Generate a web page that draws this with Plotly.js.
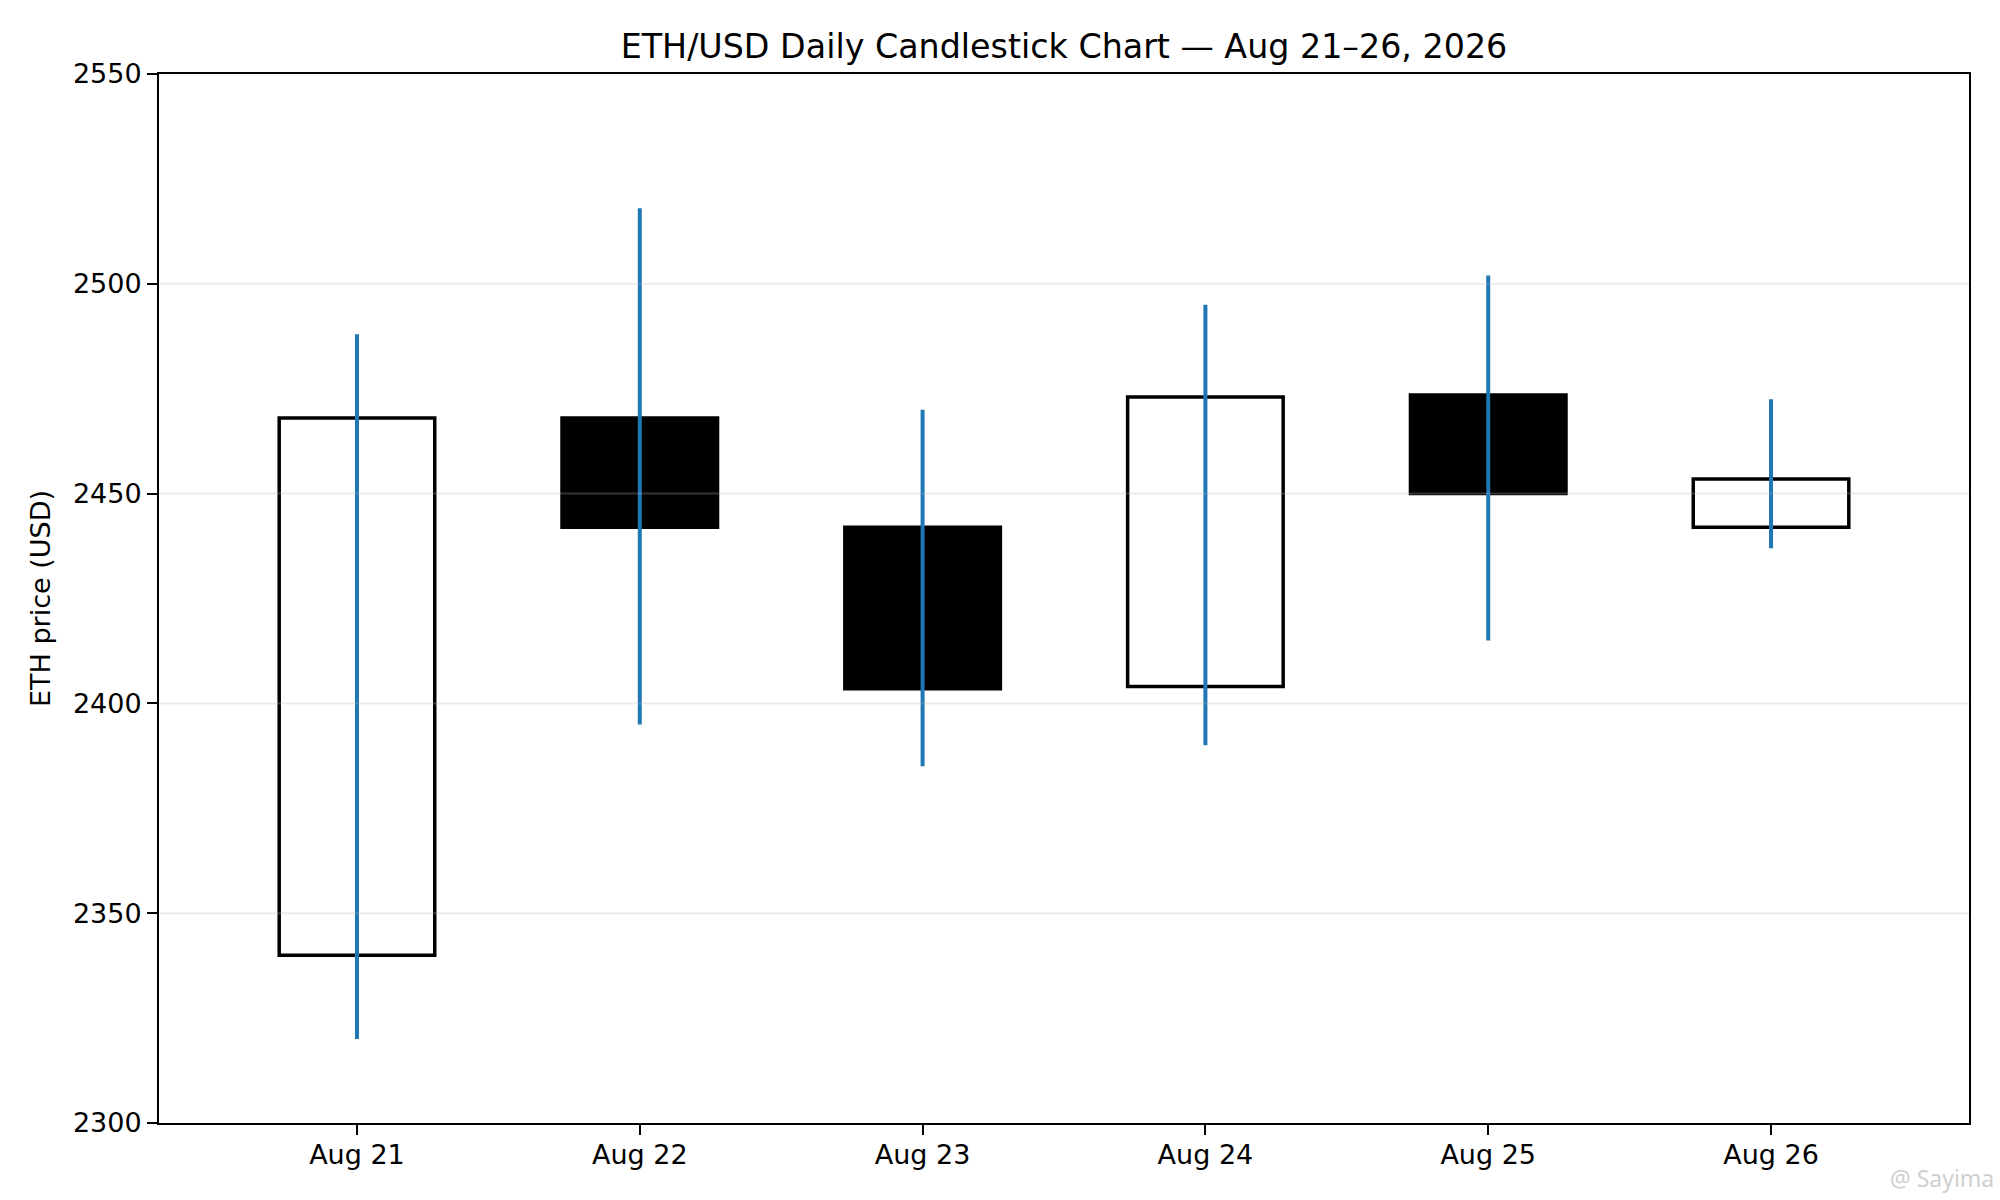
<!DOCTYPE html>
<html>
<head>
<meta charset="utf-8">
<script src="https://cdn.plot.ly/plotly-3.0.1.min.js"></script>
<style>
  html, body { margin: 0; padding: 0; background: #fff; }
  #chart { width: 2000px; height: 1200px; }
</style>
</head>
<body>
<div id="chart"></div>
<script>
// daily OHLC values
const days = ["Aug 21", "Aug 22", "Aug 23", "Aug 24", "Aug 25", "Aug 26"];
const opens = [2340, 2468, 2442, 2404, 2473.5, 2442];
const highs = [2488, 2518, 2470, 2495, 2502, 2472.5];
const lows = [2320, 2395, 2385, 2390, 2415, 2437];
const closes = [2468, 2442, 2403.5, 2473, 2450, 2453.5];

const priceTicks = [2300, 2350, 2400, 2450, 2500, 2550];

const FONT = "DejaVu Sans, Liberation Sans, sans-serif";

// candle bodies as bars from min(open, close) to max(open, close)
const bodies = {
  type: "bar",
  x: days,
  base: days.map((d, i) => Math.min(opens[i], closes[i])),
  y: days.map((d, i) => Math.abs(closes[i] - opens[i])),
  width: 0.55,
  marker: {
    color: days.map((d, i) => (closes[i] >= opens[i] ? "rgba(0,0,0,0)" : "#000000")),
    line: { color: "#000000", width: 3.5 },
  },
  hoverinfo: "skip",
  showlegend: false,
};

// wicks: one vertical segment per day, separated by gaps
const wickX = [];
const wickY = [];
days.forEach((d, i) => {
  wickX.push(d, d, null);
  wickY.push(lows[i], highs[i], null);
});

const wicks = {
  type: "scatter",
  mode: "lines",
  x: wickX,
  y: wickY,
  line: { color: "#1f77b4", width: 4 },
  connectgaps: false,
  hoverinfo: "skip",
  showlegend: false,
};

// faint grid drawn over the bodies, like the reference
const gridShapes = priceTicks.slice(1, -1).map((v) => ({
  type: "line",
  xref: "paper",
  x0: 0,
  x1: 1,
  yref: "y",
  y0: v,
  y1: v,
  layer: "above",
  line: { color: "rgba(185,185,185,0.28)", width: 2 },
}));

const layout = {
  width: 2000,
  height: 1200,
  paper_bgcolor: "#ffffff",
  plot_bgcolor: "#ffffff",
  margin: { l: 159, r: 31, t: 74, b: 77 },
  font: { family: FONT, size: 27, color: "#000000" },
  title: {
    text: "ETH/USD Daily Candlestick Chart — Aug 21–26, 2026",
    font: { family: FONT, size: 33.3, color: "#000000" },
    x: 0.5,
    xref: "paper",
    xanchor: "center",
    y: 1 - 46 / 1200,
    yref: "container",
    yanchor: "middle",
  },
  bargap: 0,
  xaxis: {
    type: "category",
    range: [-0.7, 5.7],
    showgrid: false,
    zeroline: false,
    showline: true,
    linecolor: "#000000",
    linewidth: 2,
    mirror: true,
    ticks: "outside",
    ticklen: 10,
    tickwidth: 2,
    tickcolor: "#000000",
    ticklabelstandoff: -3,
    tickfont: { family: FONT, size: 27, color: "#000000" },
    fixedrange: true,
  },
  yaxis: {
    range: [2300, 2550],
    tickvals: priceTicks,
    showgrid: false,
    zeroline: false,
    showline: true,
    linecolor: "#000000",
    linewidth: 2,
    mirror: true,
    ticks: "outside",
    ticklen: 10,
    tickwidth: 2,
    tickcolor: "#000000",
    tickfont: { family: FONT, size: 27, color: "#000000" },
    title: {
      text: "ETH price (USD)",
      font: { family: FONT, size: 27, color: "#000000" },
      standoff: 14,
    },
    fixedrange: true,
  },
  shapes: gridShapes,
  annotations: [
    {
      text: "@ Sayima",
      xref: "paper",
      yref: "paper",
      x: 0.955,
      y: -0.0527,
      xanchor: "left",
      yanchor: "middle",
      showarrow: false,
      font: { family: "Noto Sans, DejaVu Sans, sans-serif", size: 23, color: "#cfcfcf" },
    },
  ],
};

Plotly.newPlot("chart", [bodies, wicks], layout, {
  displayModeBar: false,
  staticPlot: true,
});
</script>
</body>
</html>
